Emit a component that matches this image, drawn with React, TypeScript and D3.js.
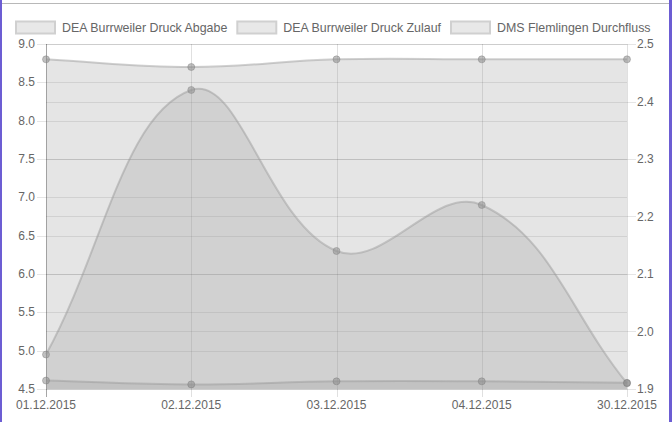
import React, { useEffect, useRef } from 'react';
import * as d3 from 'd3';

// 图表数据
const labels = ['01.12.2015', '02.12.2015', '03.12.2015', '04.12.2015', '30.12.2015'];
const druckAbgabe = [4.61, 4.56, 4.6, 4.6, 4.58];
const druckZulauf = [8.8, 8.7, 8.8, 8.8, 8.8];
const durchfluss = [1.96, 2.42, 2.14, 2.22, 1.91];
const seriesNames = ['DEA Burrweiler Druck Abgabe', 'DEA Burrweiler Druck Zulauf', 'DMS Flemlingen Durchfluss'];
const leftDomain = [4.5, 9.0];
const rightDomain = [1.9, 2.5];

const WIDTH = 672;
const HEIGHT = 422;
const margin = { top: 44, right: 45, bottom: 33, left: 46 };

const FILL = 'rgba(151,151,151,0.25)';
const STROKE = 'rgba(151,151,151,0.45)';
const POINT_FILL = 'rgba(140,140,140,0.55)';
const POINT_STROKE = 'rgba(120,120,120,0.4)';
const FONT = "Arial, 'Liberation Sans', sans-serif";

type Pt = [number, number];

// Chart.js 风格的样条曲线
const splinePath = (pts: Pt[], tension: number, top: number, bottom: number, left: number, right: number, close: boolean) => {
  const clampY = (v: number) => Math.max(top, Math.min(bottom, v));
  const clampX = (v: number) => Math.max(left, Math.min(right, v));
  const cps = pts.map((p, i) => {
    const prev = pts[i - 1] || p;
    const next = pts[i + 1] || p;
    const d01 = Math.hypot(p[0] - prev[0], p[1] - prev[1]);
    const d12 = Math.hypot(next[0] - p[0], next[1] - p[1]);
    const tot = d01 + d12 || 1;
    const fa = tension * (d01 / tot);
    const fb = tension * (d12 / tot);
    return {
      prev: [clampX(p[0] - fa * (next[0] - prev[0])), clampY(p[1] - fa * (next[1] - prev[1]))] as Pt,
      next: [clampX(p[0] + fb * (next[0] - prev[0])), clampY(p[1] + fb * (next[1] - prev[1]))] as Pt
    };
  });
  const path = d3.path();
  path.moveTo(pts[0][0], pts[0][1]);
  for (let i = 1; i < pts.length; i++) {
    path.bezierCurveTo(cps[i - 1].next[0], cps[i - 1].next[1], cps[i].prev[0], cps[i].prev[1], pts[i][0], pts[i][1]);
  }
  if (close) {
    path.lineTo(pts[pts.length - 1][0], bottom);
    path.lineTo(pts[0][0], bottom);
    path.closePath();
  }
  return path.toString();
};

const App: React.FC = () => {
  const svgRef = useRef<SVGSVGElement>(null);

  useEffect(() => {
    if (!svgRef.current) return;
    const svg = d3.select(svgRef.current);
    svg.selectAll('*').remove();

    const x0 = margin.left;
    const x1 = WIDTH - margin.right;
    const y0 = margin.top;
    const y1 = HEIGHT - margin.bottom;

    const xScale = d3.scalePoint<string>().domain(labels).range([x0, x1]);
    const yLeft = d3.scaleLinear().domain(leftDomain).range([y1, y0]);
    const yRight = d3.scaleLinear().domain(rightDomain).range([y1, y0]);

    svg.append('rect').attr('width', WIDTH).attr('height', HEIGHT).attr('fill', '#ffffff');

    // 网格线
    const grid = svg.append('g').attr('shape-rendering', 'crispEdges');
    yLeft.ticks(10).forEach(t => {
      grid.append('line')
        .attr('x1', x0 - 9).attr('x2', x1)
        .attr('y1', Math.round(yLeft(t)) + 0.5).attr('y2', Math.round(yLeft(t)) + 0.5)
        .attr('stroke', 'rgba(0,0,0,0.1)');
    });
    yRight.ticks(6).forEach(t => {
      grid.append('line')
        .attr('x1', x0).attr('x2', x1 + 9)
        .attr('y1', Math.round(yRight(t)) + 0.5).attr('y2', Math.round(yRight(t)) + 0.5)
        .attr('stroke', 'rgba(0,0,0,0.1)');
    });
    labels.forEach((l, i) => {
      const x = Math.round(xScale(l)!) + 0.5;
      grid.append('line')
        .attr('x1', x).attr('x2', x)
        .attr('y1', y0).attr('y2', y1 + 8)
        .attr('stroke', i === 0 ? 'rgba(0,0,0,0.35)' : 'rgba(0,0,0,0.12)');
    });

    // 数据集（倒序绘制）
    const datasets = [
      { values: druckAbgabe, scale: yLeft },
      { values: druckZulauf, scale: yLeft },
      { values: durchfluss, scale: yRight }
    ];
    const plot = svg.append('g');
    [...datasets].reverse().forEach(ds => {
      const pts: Pt[] = ds.values.map((v, i) => [xScale(labels[i])!, ds.scale(v)]);
      plot.append('path')
        .attr('d', splinePath(pts, 0.4, y0, y1, x0, x1, true))
        .attr('fill', FILL)
        .attr('stroke', 'none');
      plot.append('path')
        .attr('d', splinePath(pts, 0.4, y0, y1, x0, x1, false))
        .attr('fill', 'none')
        .attr('stroke', STROKE)
        .attr('stroke-width', 2);
      pts.forEach(p => {
        plot.append('circle')
          .attr('cx', p[0]).attr('cy', p[1]).attr('r', 3.5)
          .attr('fill', POINT_FILL)
          .attr('stroke', POINT_STROKE)
          .attr('stroke-width', 1);
      });
    });

    // 坐标轴标签
    const axisText = svg.append('g')
      .attr('font-family', FONT)
      .attr('font-size', 12)
      .attr('fill', '#666666');
    yLeft.ticks(10).forEach(t => {
      axisText.append('text')
        .attr('x', x0 - 11).attr('y', yLeft(t))
        .attr('text-anchor', 'end')
        .attr('dominant-baseline', 'central')
        .text(d3.format('.1f')(t));
    });
    yRight.ticks(6).forEach(t => {
      axisText.append('text')
        .attr('x', x1 + 10).attr('y', yRight(t))
        .attr('text-anchor', 'start')
        .attr('dominant-baseline', 'central')
        .text(d3.format('.1f')(t));
    });
    labels.forEach(l => {
      axisText.append('text')
        .attr('x', xScale(l)!).attr('y', y1 + 16)
        .attr('text-anchor', 'middle')
        .attr('dominant-baseline', 'central')
        .text(l);
    });

    // 图例
    const legend = svg.append('g')
      .attr('font-family', FONT)
      .attr('font-size', 12.4)
      .attr('fill', '#666666');
    let lx = 16;
    seriesNames.forEach(name => {
      legend.append('rect')
        .attr('x', lx).attr('y', 21.5)
        .attr('width', 39).attr('height', 12)
        .attr('fill', '#e8e8e8')
        .attr('stroke', '#d0d0d0')
        .attr('stroke-width', 2);
      const txt = legend.append('text')
        .attr('x', lx + 46).attr('y', 28)
        .attr('dominant-baseline', 'central')
        .text(name);
      const w = (txt.node() as SVGTextElement).getComputedTextLength();
      lx += 46 + w + 10;
    });

    // 外框
    svg.append('line')
      .attr('x1', 2).attr('x2', WIDTH - 2)
      .attr('y1', 3.5).attr('y2', 3.5)
      .attr('stroke', '#b8b8b8');
    svg.append('rect').attr('x', 0).attr('y', 0).attr('width', 2).attr('height', HEIGHT).attr('fill', '#6c5dd3');
    svg.append('rect').attr('x', WIDTH - 3).attr('y', 0).attr('width', 3).attr('height', HEIGHT).attr('fill', '#6c5dd3');
  }, []);

  return (
    <div style={{ position: 'fixed', left: 0, top: 0, width: WIDTH, height: HEIGHT }}>
      <svg ref={svgRef} width={WIDTH} height={HEIGHT} style={{ display: 'block' }} />
    </div>
  );
};

export default App;
